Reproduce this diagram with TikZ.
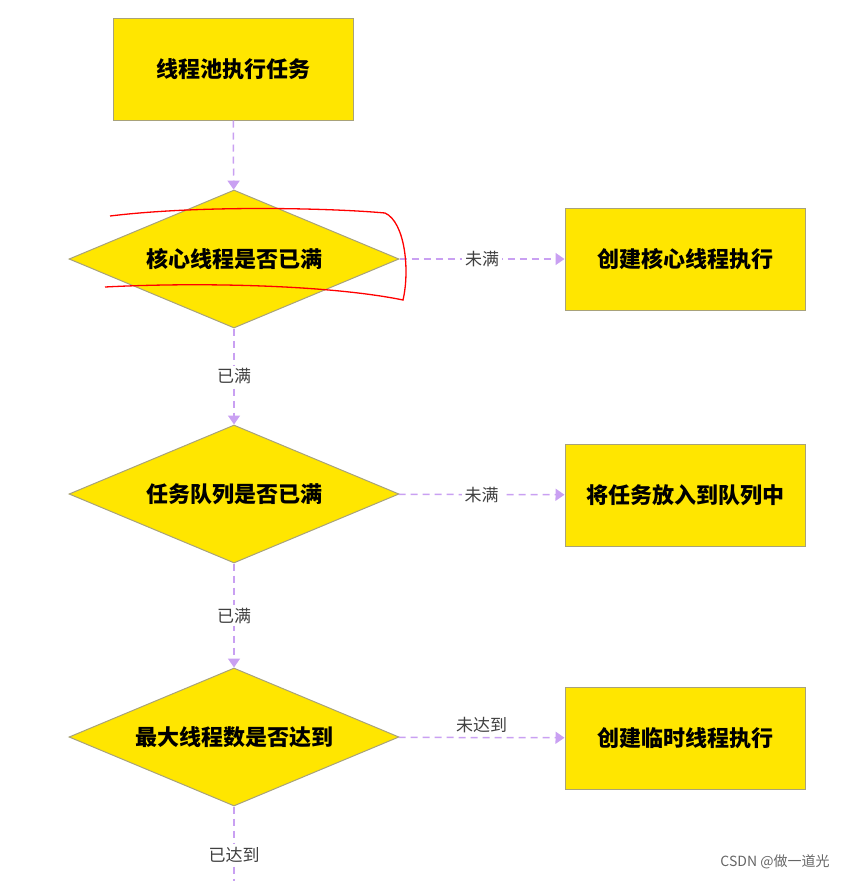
\documentclass[tikz,border=0pt]{standalone}
\usepackage{fontspec}
\setmainfont{Noto Sans CJK SC}
\newfontfamily\cjkb{Noto Sans CJK SC}[BoldFont=* Bold]
\usetikzlibrary{shapes.geometric,arrows.meta}
\definecolor{yel}{HTML}{FFE600}
\definecolor{bord}{HTML}{A8A27A}
\definecolor{pur}{HTML}{C9A0F2}
\begin{document}
\begin{tikzpicture}[x=1pt,y=-1pt,
  box/.style={draw=bord,fill=yel,line width=1pt,minimum width=240pt,minimum height=102pt,align=center,font=\fontsize{22}{26}\selectfont\bfseries,text width=225pt},
  dia/.style={draw=bord,fill=yel,line width=1pt,diamond,aspect=2.39,minimum width=330pt,minimum height=138pt,inner sep=0pt,font=\fontsize{22}{26}\selectfont\bfseries},
  conn/.style={draw=pur,dashed,line width=1.5pt,dash pattern=on 7pt off 5pt,-{Triangle[length=9pt,width=12pt]}},
  lab/.style={fill=white,font=\fontsize{17}{20}\selectfont,text=black!75,inner sep=3pt}]
\useasboundingbox (0,0) rectangle (860,881);
\node[box] (start) at (233,69) {线程池执行任务};
\node[dia] (d1) at (234,259) {核心线程是否已满};
\node[dia] (d2) at (234,494) {任务队列是否已满};
\node[dia] (d3) at (234,737) {最大线程数是否达到};
\node[box] (b1) at (685,259) {创建核心线程执行};
\node[box] (b2) at (685,495) {将任务放入到队列中};
\node[box] (b3) at (685,738) {创建临时线程执行};
\coordinate (end) at (234,881);
\draw[conn] (start) -- (d1);
\draw[conn] (d1) -- node[lab]{已满} (d2);
\draw[conn] (d2) -- node[lab]{已满} (d3);
\draw[conn,-] (d3) -- node[lab,pos=0.65]{已达到} (end);
\draw[conn] (d1) -- node[lab]{未满} (b1);
\draw[conn] (d2) -- node[lab]{未满} (b2);
\draw[conn] (d3) -- node[lab,fill=none,above=1pt]{未达到} (b3);
\draw[red,line width=1.3pt] (110,216) .. controls (200,205) and (330,208) .. (385,213)
  .. controls (405,222) and (410,270) .. (403,300)
  .. controls (330,285) and (200,282) .. (105,287);
\node[text=black!60,font=\fontsize{14}{16}\selectfont] (wm) at (775,862) {CSDN @做一道光};
\end{tikzpicture}
\end{document}
